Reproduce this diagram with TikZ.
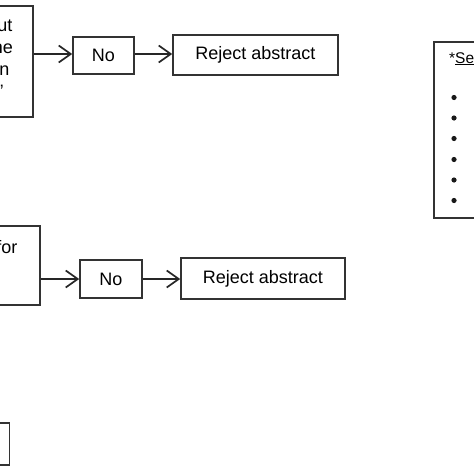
\documentclass[tikz,border=0pt]{standalone}
\usepackage{fontspec}
\setmainfont{Liberation Sans}
\usetikzlibrary{arrows.meta}

\begin{document}
\begin{tikzpicture}[x=1pt,y=-1pt,
    box/.style={draw=black!80,line width=1.6pt,inner sep=0pt,font=\fontsize{18}{21}\selectfont},
    txt/.style={inner sep=0pt,anchor=base east,font=\fontsize{18}{21}\selectfont},
    arr/.style={draw=black!85,line width=1.7pt,-{Straight Barb[length=12pt,width=17pt,line width=1.7pt]}}]
    \useasboundingbox (0,0) rectangle (474,474);
    \clip (0,0) rectangle (474,474);

    % first question
    \node[box,minimum width=153,minimum height=111] (qfirst) at (-43.5,61.5) {};
    \node[txt] (qfirsta) at (12.7,31) {about};
    \node[txt] (qfirstb) at (13,53) {the};
    \node[txt] (qfirstc) at (9.5,75) {in};
    \node[txt] (qfirstd) at (3.5,97) {”};
    \node[box,minimum width=61,minimum height=37] (nofirst) at (103.5,55.5) {No};
    \node[box,minimum width=165,minimum height=40] (rejfirst) at (255.5,55) {Reject abstract};
    \draw[arr] (qfirst.east |- 0,54) -- (nofirst.west |- 0,54);
    \draw[arr] (nofirst.east |- 0,54) -- (rejfirst.west |- 0,54);

    % second question
    \node[box,minimum width=160,minimum height=79] (qsecond) at (-40,265.5) {};
    \node[txt] (qseconda) at (17.5,253) {for};
    \node[box,minimum width=62,minimum height=38] (nosecond) at (111,279) {No};
    \node[box,minimum width=164,minimum height=41] (rejsecond) at (263,278.5) {Reject abstract};
    \draw[arr] (qsecond.east |- nosecond.west) -- (nosecond.west);
    \draw[arr] (nosecond.east) -- (rejsecond.west |- nosecond.east);

    % bottom box
    \node[box,minimum width=109.5,minimum height=42] (qthird) at (-45.25,444) {};

    % search terms
    \node[box,minimum width=166,minimum height=176] (terms) at (517,130) {};
    \node[inner sep=0pt,anchor=base west,font=\fontsize{15.5}{18}\selectfont] (termstitle) at (449,63) {*\underline{Search terms}};
    \foreach \y in {97.5,118,138.5,159.5,180,200.5}
        \fill[black!90] (454,\y) circle (2.6);
\end{tikzpicture}
\end{document}
